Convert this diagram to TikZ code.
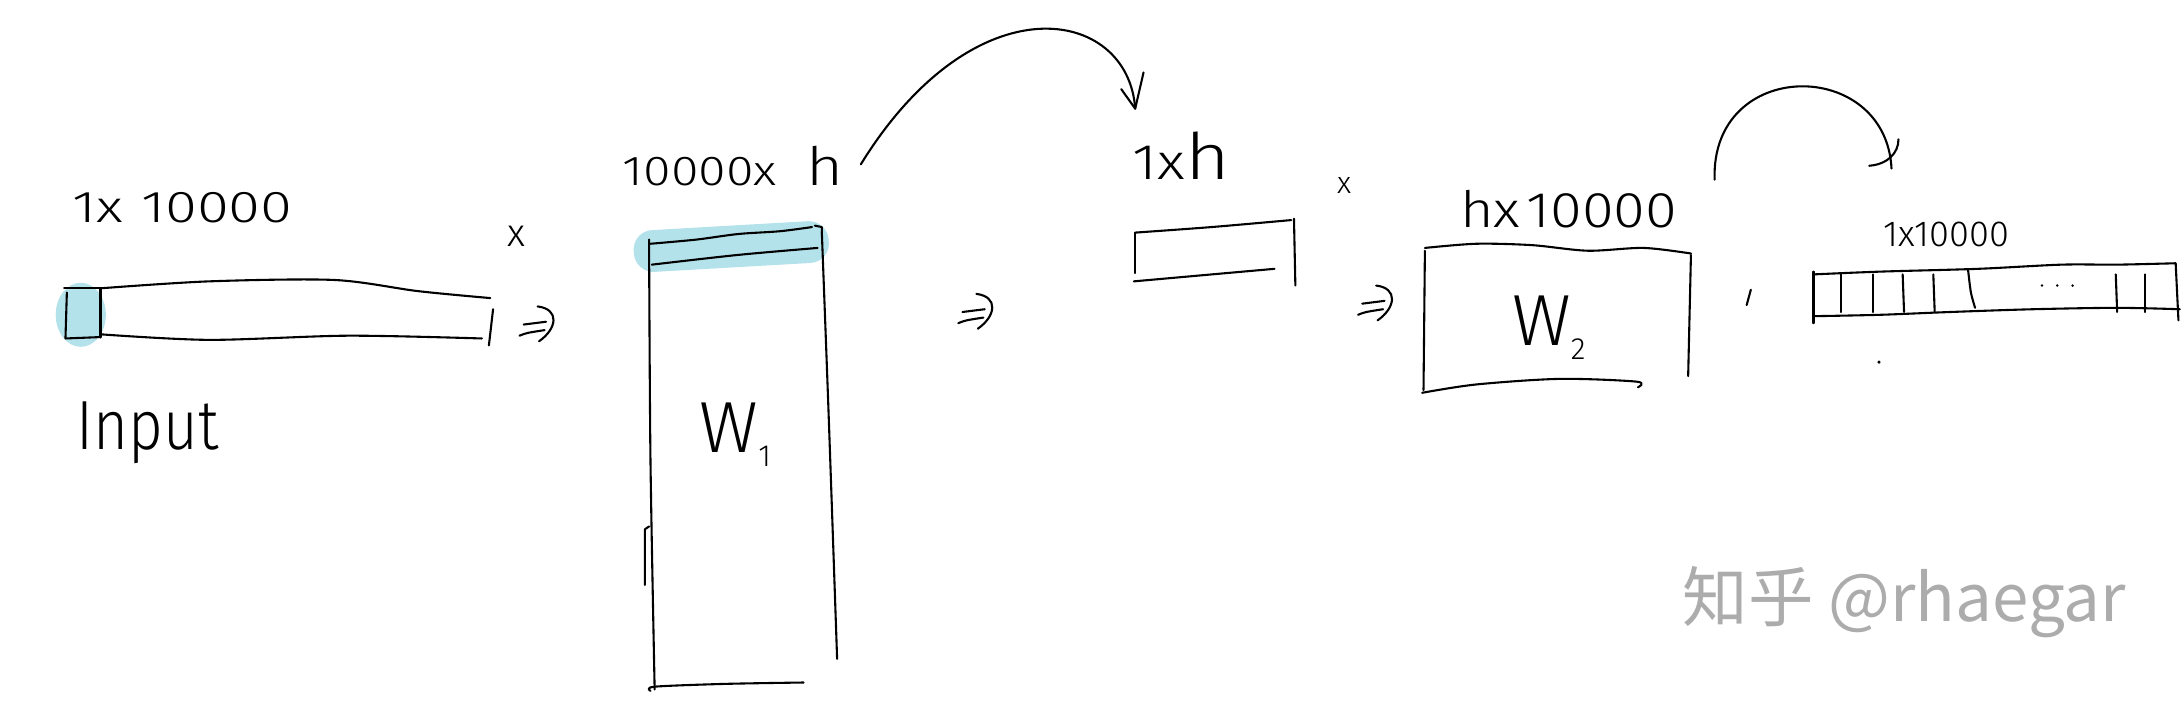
\documentclass[tikz,border=0pt]{standalone}
\usepackage{fontspec}
\newfontfamily\hand{Fira Sans}[UprightFont=* Light]
\newfontfamily\cjk{Noto Sans CJK SC}
\definecolor{hl}{RGB}{180,226,234}
\definecolor{wm}{RGB}{172,172,172}
\newcommand{\fs}[1]{\fontsize{#1}{#1}\selectfont}
\newcommand{\wide}[2]{\scalebox{#1}[1]{#2}}
\tikzset{
  pen/.style={line width=1.5pt, line cap=round, line join=round, black},
  lab/.style={inner sep=0pt, font=\hand},
  impl/.pic={
    \draw[pen] (-10,1) -- (6,-1);
    \draw[pen] (-13,9) .. controls (-8,7) .. (5,5);
    \draw[pen] (0,-12) .. controls (16,-10) and (14,4) .. (1,13);
  },
}
\begin{document}
\begin{tikzpicture}[x=1pt,y=-1pt]
\useasboundingbox (0,0) rectangle (1568,504);

% ---------- input vector ----------
\fill[hl] (58,226) ellipse (18 and 23);
\draw[pen] (48,210) -- (47,243) -- (72,242);
\draw[pen] (46,207) -- (72,207);
\draw[pen, line width=2.2pt] (72,207) -- (72,242);
\draw[pen] plot[smooth] coordinates {(72,207) (150,202) (240,201) (300,209) (352,214)};
\draw[pen] plot[smooth] coordinates {(72,240) (150,244) (250,241) (346,243)};
\draw[pen] (354,222) -- (351,248);
\node[lab, anchor=base west] (inlab) at (52,160) {\fs{32}\wide{1.3}{1x\hspace{10pt}10000}};
\node[lab, anchor=base west] (inp) at (55,323) {\fs{50}\wide{0.86}{Input}};
\node[lab] (x1) at (371,170) {\fs{28}x};
\pic at (386,232) {impl};

% ---------- W1 ----------
\fill[hl, rounded corners=14pt] (454,166) -- (594,158) -- (596,188) -- (456,196) -- cycle;
\draw[pen] plot[smooth] coordinates {(466,172) (467,330) (470,495)};
\draw[pen] plot[smooth] coordinates {(590,166) (595,300) (601,473)};
\draw[pen] (585,162) -- (590,163) -- (590,168);
\draw[pen] plot[smooth] coordinates {(467,175) (500,172) (530,168) (560,166) (583,163)};
\draw[pen] plot[smooth] coordinates {(468,190) (530,183) (587,178)};
\draw[pen] plot[smooth] coordinates {(467,496) (470,493) (520,491) (577,490)};
\draw[pen] (463,420) -- (463,380) -- (466,378);
\node[lab, anchor=base west] (w1lab) at (447,133) {\fs{30}\wide{1.2}{10000x\hspace{18pt}\fs{38}h}};
\node[lab] (w1) at (528,312) {\fs{52}W\raisebox{-10pt}{\fs{22}1}};
\pic at (701,223) {impl};

% arrow W1 -> 1xh
\coordinate (a1s) at (618,118);
\coordinate (a1e) at (815,78);
\draw[pen] (a1s) .. controls (700,-15) and (810,5) .. (a1e);
\draw[pen] (a1e) -- ++(-10,-14);
\draw[pen] (a1e) -- ++(6,-26);

% ---------- 1 x h ----------
\node[lab, anchor=base west] (hlab) at (813,129) {\wide{1.2}{\fs{36}1x\fs{46}h}};
\draw[pen] (815,167) -- (815,196);
\draw[pen] plot[smooth] coordinates {(815,167) (870,163) (927,158)};
\draw[pen] (929,157) -- (930,205);
\draw[pen] plot[smooth] coordinates {(814,202) (870,197) (915,193)};
\node[lab] (x2) at (965,133) {\fs{22}x};
\pic at (988,217) {impl};

% ---------- W2 ----------
\node[lab, anchor=base west] (w2lab) at (1048,163) {\fs{36}\wide{1.15}{hx\hspace{4pt}10000}};
\draw[pen] plot[smooth] coordinates {(1023,178) (1060,175) (1100,176) (1140,180) (1180,178) (1214,182)};
\draw[pen] (1023,180) -- (1022,280);
\draw[pen] (1214,183) -- (1212,270);
\draw[pen] plot[smooth] coordinates {(1021,282) (1060,276) (1120,272) (1175,274) (1176,278)};
\node[lab] (w2) at (1112,235) {\fs{52}W\raisebox{-10pt}{\fs{22}2}};
\draw[pen] (1257,208) -- (1254,219);

% arrow W2 -> output
\coordinate (a2s) at (1231,129);
\coordinate (a2e) at (1358,121);
\draw[pen] (a2s) .. controls (1228,41) and (1354,41) .. (a2e);
\draw[pen] (1342,119) .. controls (1355,118) and (1363,110) .. (1363,100);

% ---------- output vector ----------
\node[lab, anchor=base west] (olab) at (1352,177) {\fs{26}1x10000};
\draw[pen] plot[smooth] coordinates {(1302,197) (1350,195) (1420,193) (1480,190) (1520,190) (1562,189)};
\draw[pen] (1302,195) -- (1302,232);
\draw[pen] (1562,189) -- (1564,230);
\draw[pen] plot[smooth] coordinates {(1302,227) (1350,226) (1400,224) (1460,222) (1520,221) (1565,222)};
\foreach \xa/\xb in {1322/1322,1345/1345,1366/1367,1388/1389,1519/1520,1540/1540}
  \draw[pen] (\xa,197) -- (\xb,224);
\draw[pen] plot[smooth] coordinates {(1413,194) (1415,210) (1418,221)};
\foreach \p in {1466,1477,1488} \fill (\p,205) circle (1pt);
\fill (1349,260) circle (1.2pt);

% ---------- watermark ----------
\node[inner sep=0pt, anchor=west, text=wm, font=\cjk\fs{47}] (wmark) at (1208,432) {知乎 @rhaegar};
\end{tikzpicture}
\end{document}
